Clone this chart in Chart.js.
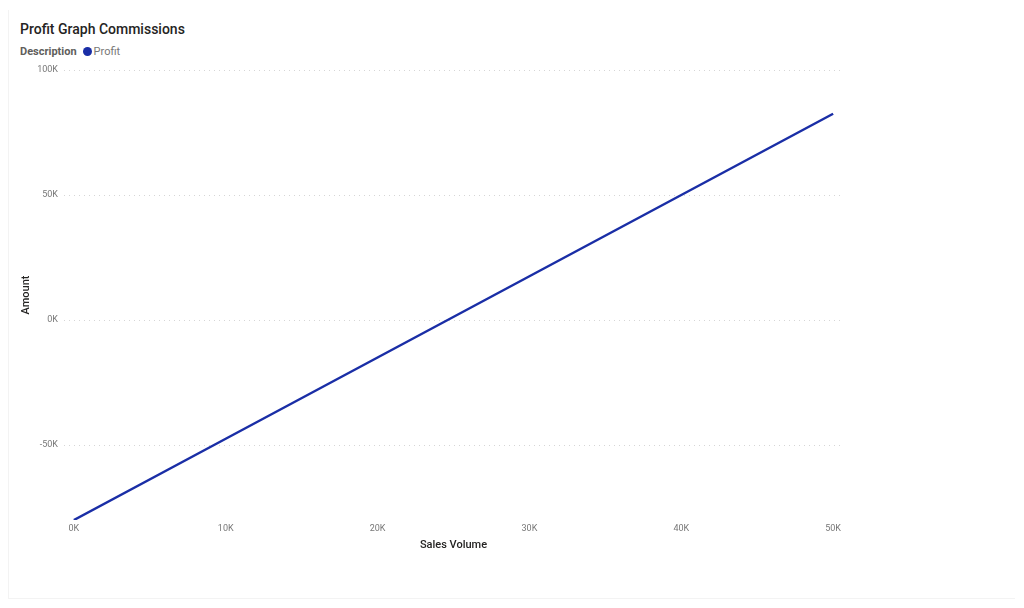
<!DOCTYPE html>
<html>
<head>
<meta charset="utf-8">
<script src="https://cdn.jsdelivr.net/npm/chart.js@4/dist/chart.umd.min.js"></script>
<style>
  html, body { margin: 0; padding: 0; background: #fff; }
  body { width: 1024px; height: 608px; position: relative; overflow: hidden; font-family: Roboto, "Noto Sans", sans-serif; }
  .frame { position: absolute; left: 8px; top: 10px; width: 1006px; height: 588px; border-left: 1px solid #f3f3f3; border-bottom: 1px solid #f3f3f3; }
  .title { position: absolute; left: 20px; top: 21px; font-size: 14px; font-weight: 500; color: #252423; }
  .legend { position: absolute; left: 20px; top: 45px; font-size: 11px; display: flex; align-items: center; }
  .legend b { color: #605e5c; font-weight: bold; margin-right: 6px; }
  .legend .dot { width: 9px; height: 9px; border-radius: 50%; background: #1a2ea6; margin-right: 2px; }
  .legend span { color: #777; }
  #wrap { position: absolute; left: 0; top: 0; width: 1024px; height: 608px; }
</style>
</head>
<body>
<div class="frame"></div>
<div class="title">Profit Graph Commissions</div>
<div class="legend"><b>Description</b><div class="dot"></div><span>Profit</span></div>
<div id="wrap"><canvas id="profitChart"></canvas></div>
<script>
// data
var salesVolume = [0, 10000, 20000, 30000, 40000, 50000];
var profit = [-80000, -47500, -15000, 17500, 50000, 82500];
var xTicks = [0, 10000, 20000, 30000, 40000, 50000];
var yTicks = [-50000, 0, 50000, 100000];

function kLabel(v) {
    return Math.round(v / 1000) + 'K';
}

var ctx = document.getElementById('profitChart').getContext('2d');

var chart = new Chart(ctx, {
    type: 'line',
    data: {
        datasets: [{
            label: 'Profit',
            data: salesVolume.map((x, i) => ({ x: x, y: profit[i] })),
            borderColor: '#1a2ea6',
            borderWidth: 2.5,
            pointRadius: 0,
            tension: 0,
            fill: false
        }]
    },
    options: {
        responsive: true,
        maintainAspectRatio: false,
        animation: false,
        layout: {
            padding: { left: 18, top: 70, right: 181, bottom: 56 }
        },
        scales: {
            x: {
                type: 'linear',
                min: -650,
                max: 50650,
                afterBuildTicks: function (scale) {
                    scale.ticks = xTicks.map(v => ({ value: v }));
                },
                grid: { display: false, drawTicks: false },
                border: { display: false },
                ticks: {
                    callback: function (value) { return kLabel(value); },
                    color: '#777',
                    font: { family: 'Roboto', size: 9 },
                    padding: 3,
                    maxRotation: 0
                },
                title: {
                    display: true,
                    text: 'Sales Volume',
                    color: '#252423',
                    font: { family: 'Roboto', size: 11, weight: '500' },
                    padding: { top: 2, bottom: 0 }
                }
            },
            y: {
                type: 'linear',
                min: -80000,
                max: 100000,
                afterBuildTicks: function (scale) {
                    scale.ticks = yTicks.map(v => ({ value: v }));
                },
                afterFit: function (scale) {
                    scale.width = 46;
                },
                grid: {
                    color: '#d6d6d6',
                    lineWidth: 1,
                    drawTicks: false
                },
                border: { display: false, dash: [1, 4] },
                ticks: {
                    callback: function (value) { return kLabel(value); },
                    color: '#777',
                    font: { family: 'Roboto', size: 9 },
                    padding: 6
                },
                title: {
                    display: true,
                    text: 'Amount',
                    color: '#252423',
                    font: { family: 'Roboto', size: 11, weight: '500' },
                    padding: { top: 2, bottom: 0 }
                }
            }
        },
        plugins: {
            legend: { display: false },
            tooltip: { enabled: false }
        }
    }
});
</script>
</body>
</html>
